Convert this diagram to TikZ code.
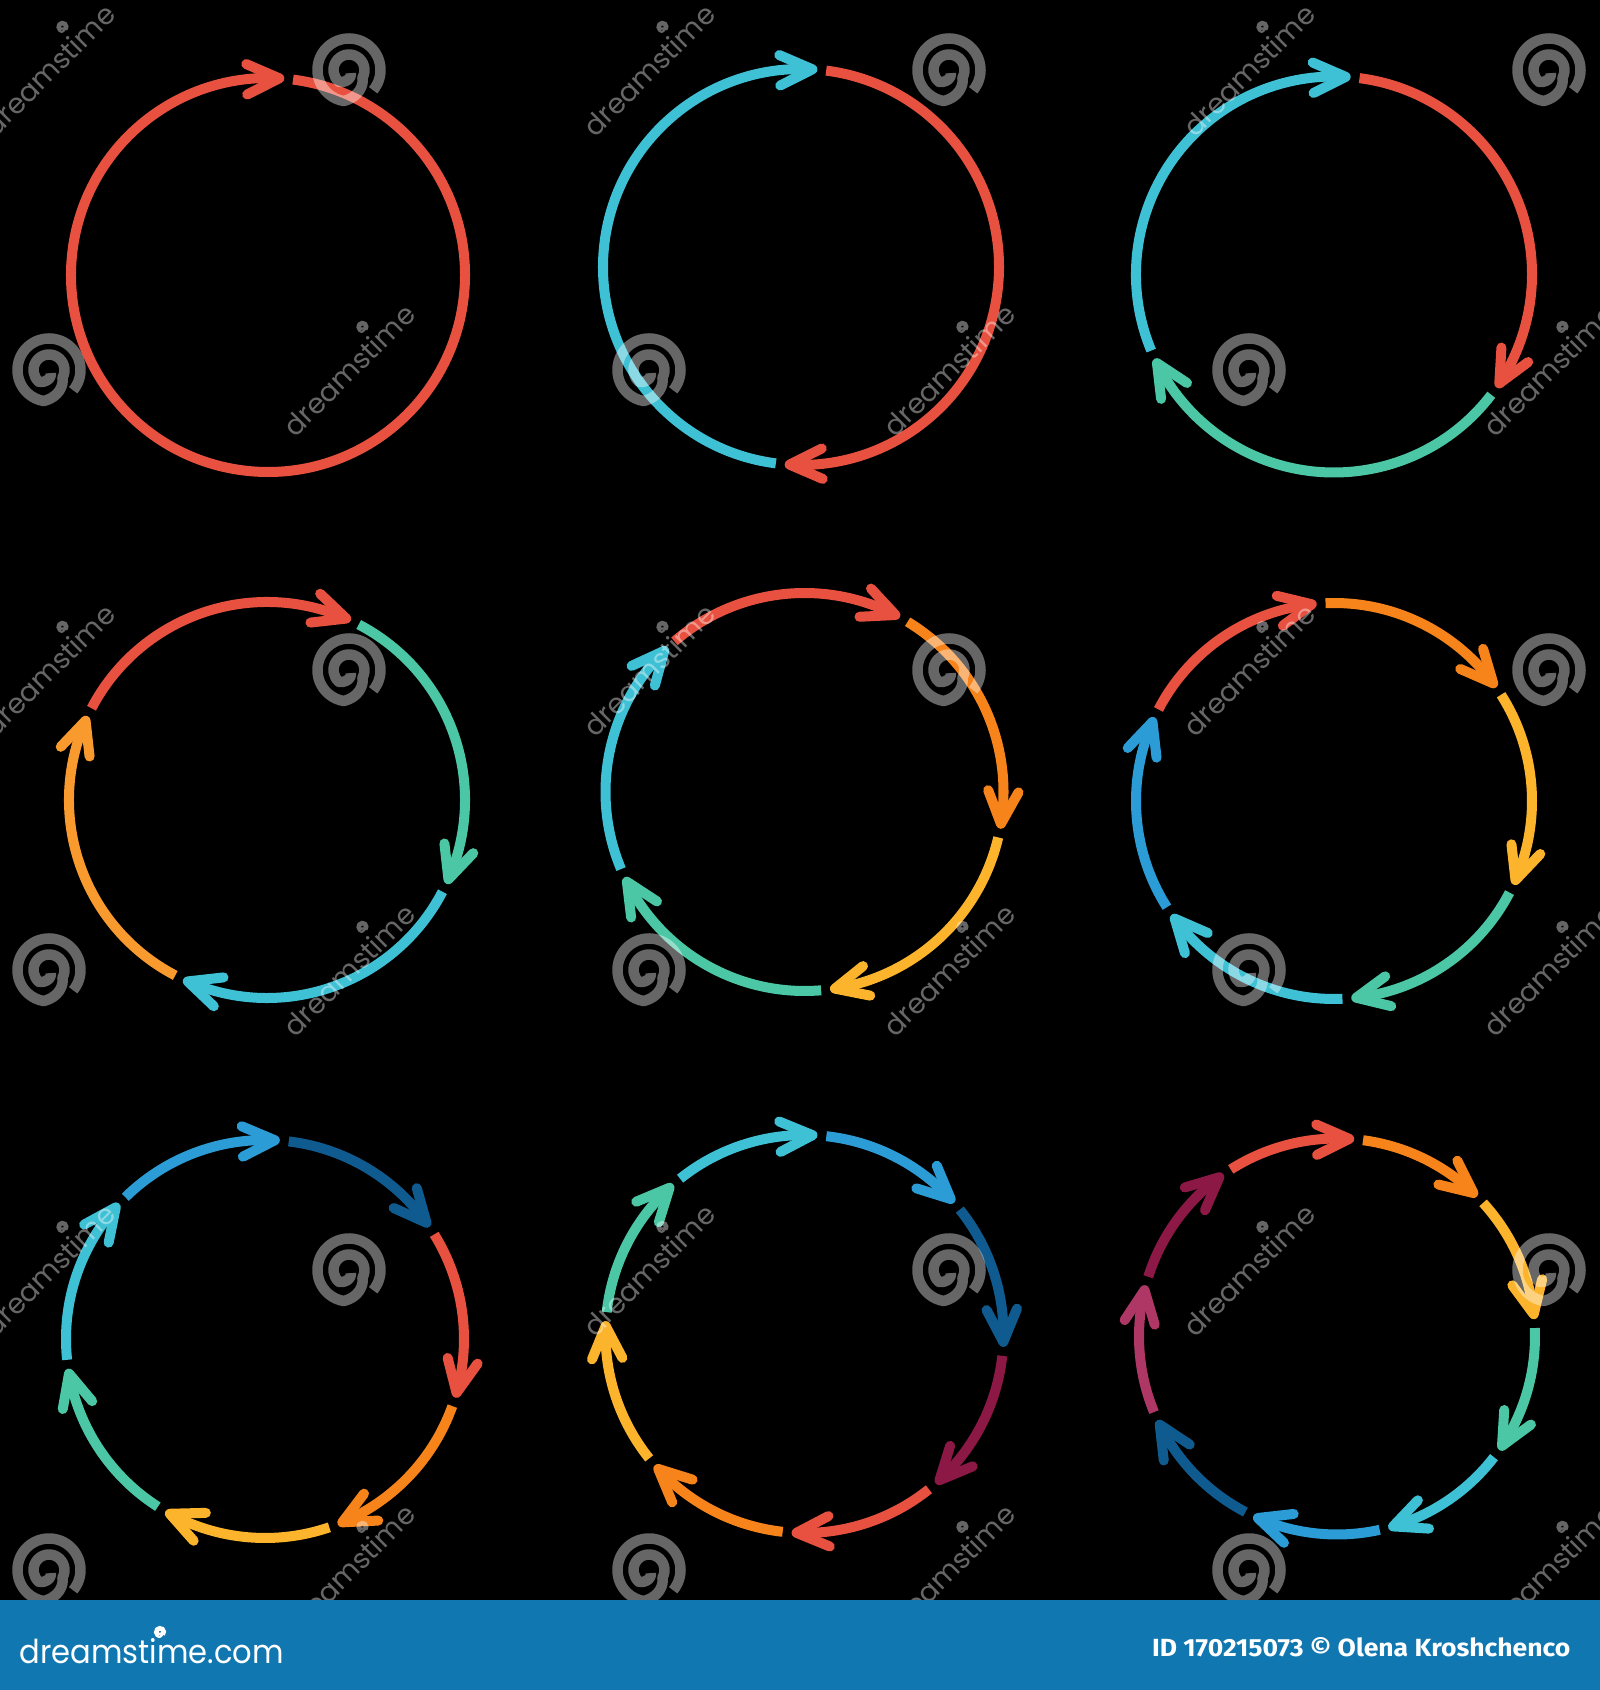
\documentclass[tikz,border=0pt]{standalone}
\usepackage{fontspec}
\usepackage{graphicx}
\newfontfamily\logofont{Poppins}
\newfontfamily\idfont{Fira Sans}
\usetikzlibrary{calc}
\definecolor{cred}{HTML}{E8503F}
\definecolor{ccyan}{HTML}{3EC0D5}
\definecolor{cteal}{HTML}{4BC7A5}
\definecolor{corange}{HTML}{F7841A}
\definecolor{corangeL}{HTML}{F89A2D}
\definecolor{cyellow}{HTML}{FBB42C}
\definecolor{cblue}{HTML}{2B9CD6}
\definecolor{cdblue}{HTML}{0F5B8F}
\definecolor{cmaroon}{HTML}{8C1845}
\definecolor{cpink}{HTML}{AE3766}
\definecolor{cfooter}{HTML}{1077B0}
\tikzset{
  segline/.style={line width=0.1cm, line cap=butt},
  barbline/.style={line width=0.1cm, line cap=round, line join=round},
  wmword/.style={text=white, text opacity=0.4, inner sep=0pt, transform shape},
  wmmark/.style={draw=white, draw opacity=0.4},
  spiral/.pic={\draw[pic actions, line join=round]
      (-40:31.5) arc[start angle=-40, end angle=260, radius=31.5]
      -- plot[domain=260:330, samples=15, smooth, variable=\ang]
         ({(31.5-0.2286*(\ang-260))*cos(\ang)}, {(31.5-0.2286*(\ang-260))*sin(\ang)})
      arc[start angle=330, end angle=590, radius=15.5]
      -- plot[domain=590:660, samples=12, smooth, variable=\ang]
         ({(15.5-0.17*(\ang-590))*cos(\ang)}, {(15.5-0.17*(\ang-590))*sin(\ang)});}
}
% #1 name, #2 cx, #3 cy (px from top), #4 radius, #5 first gap angle, #6 number of arrows, #7 colours
\newcommand\arrowring[7]{%
  \coordinate (#1) at (#2,{1690-#3});
  \foreach \col [count=\kk from 0] in {#7} {
    \pgfmathsetmacro\tipA{#5-\kk*360/#6+2.7}
    \pgfmathsetmacro\startA{#5-(\kk-1)*360/#6-1.3}
    \draw[segline, draw=\col] ($(#1)+(\startA:#4)$) arc[start angle=\startA, end angle=\tipA, radius=#4];
    \coordinate (#1-t\kk) at ($(#1)+(\tipA:#4)$);
    \draw[barbline, draw=\col] ($(#1-t\kk)+(\tipA+70:36)$) -- (#1-t\kk) -- ($(#1-t\kk)+(\tipA+120:36)$);
  }%
}
\newcommand\wmword[2]{%
  \begin{scope}[shift={(#1,{1690-#2})}, rotate=45]
    \node[wmword] at (0,0) {\resizebox{1.72cm}{!}{\logofont dreamstime}};
    \pic[wmmark, line width=0.022cm, scale=0.16] at (40,21) {spiral};
  \end{scope}%
}
\begin{document}
\begin{tikzpicture}[x=0.01cm, y=0.01cm]
\useasboundingbox (0,0) rectangle (1600,1690);
\clip (0,0) rectangle (1600,1690);
\fill[black] (0,0) rectangle (1600,1690);

% row 1
\arrowring{r1}{268}{275}{197}{84.0}{1}{cred}
\arrowring{r2}{801}{267}{198}{84.0}{2}{ccyan,cred}
\arrowring{r3}{1334}{274.5}{198}{83.9}{3}{ccyan,cred,cteal}
% row 2
\arrowring{r4}{267}{800}{198}{63.7}{4}{cred,cteal,ccyan,corangeL}
\arrowring{r5}{804.5}{792}{199}{60.1}{5}{cred,corange,cyellow,cteal,ccyan}
\arrowring{r6}{1334}{801}{198}{93.75}{6}{cred,corange,cyellow,cteal,ccyan,cblue}
% row 3
\arrowring{r7}{265}{1339}{199}{84.45}{7}{cblue,cdblue,cred,corange,cyellow,cteal,ccyan}
\arrowring{r8}{804.5}{1334}{199}{85}{8}{ccyan,cblue,cdblue,cmaroon,cred,corange,cyellow,cteal}
\arrowring{r9}{1337}{1336.5}{198}{83.75}{9}{cred,corange,cyellow,cteal,ccyan,cblue,cdblue,cpink,cmaroon}

% watermark
\foreach \i in {0,1,2} {
  \foreach \j in {0,1,2} {
    \pic[wmmark, line width=0.105cm] at ({349+600*\i},{1690-(70+600*\j)}) {spiral};
    \pic[wmmark, line width=0.105cm] at ({49+600*\i},{1690-(370+600*\j)}) {spiral};
    \pgfmathsetmacro\ax{49+600*\i}\pgfmathsetmacro\ay{70+600*\j}
    \pgfmathsetmacro\bx{349+600*\i}\pgfmathsetmacro\by{370+600*\j}
    \wmword{\ax}{\ay}
    \wmword{\bx}{\by}
  }
}

% footer
\fill[cfooter] (0,0) rectangle (1600,90);
\node[anchor=base west, inner sep=0pt, text=white] (logo) at (19,26)
  {\resizebox{2.64cm}{0.25cm}{\logofont dreamstime.com}};
\pic[draw=white, line width=0.022cm, scale=0.16] at (160,58) {spiral};
\node[anchor=base east, inner sep=0pt, text=white] (credit) at (1571,34)
  {\resizebox{4.18cm}{0.19cm}{\idfont\bfseries ID 170215073 © Olena Kroshchenco}};
\end{tikzpicture}
\end{document}
